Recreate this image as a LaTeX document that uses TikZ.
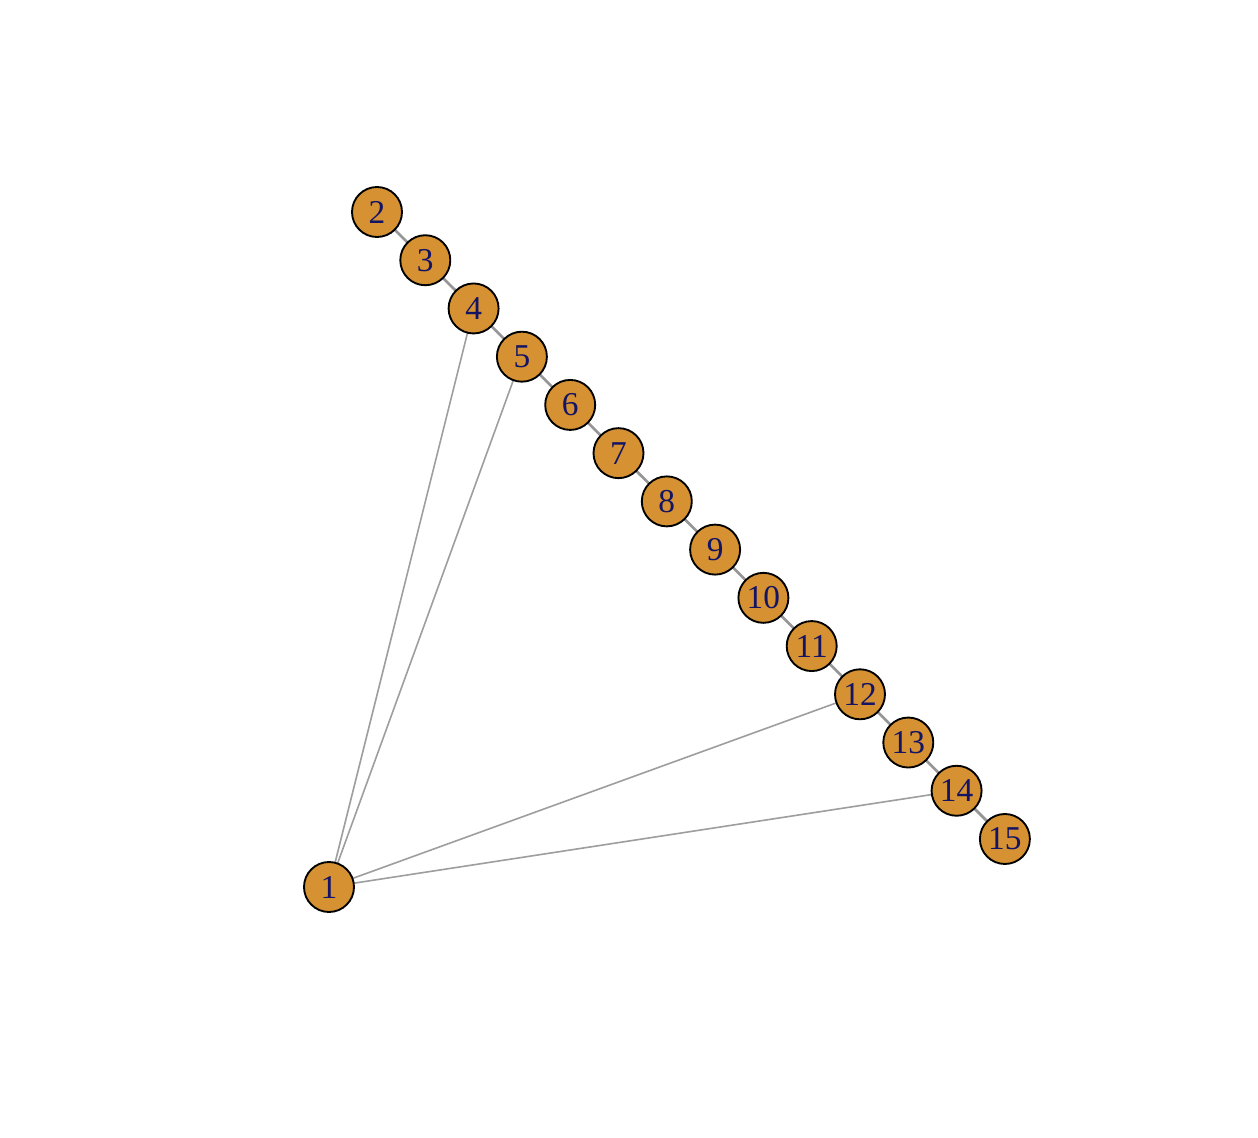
\documentclass[tikz,border=0pt]{standalone}
\usepackage{fontspec}
\setmainfont{Liberation Serif}
\definecolor{vfill}{RGB}{213,145,50}
\definecolor{vlabel}{RGB}{20,20,100}
\definecolor{egray}{RGB}{150,150,150}
\definecolor{sgray}{RGB}{158,158,158}
\begin{document}
\begin{tikzpicture}[x=0.75pt,y=-0.75pt,
  vtx/.style={circle,draw=black,line width=1.4pt,fill=vfill,minimum size=37.5pt,inner sep=0pt,
    text=vlabel,font=\fontsize{25}{25}\selectfont},
  chain/.style={draw=egray,line width=2pt},
  spoke/.style={draw=sgray,line width=1.2pt}]
\useasboundingbox (0,0) rectangle (1258,1138);
\fill[white] (0,0) rectangle (1258,1138);
\coordinate (c1) at (329,887);
\foreach \i [evaluate=\i as \xx using 377+48.3*(\i-2), evaluate=\i as \yy using 212+48.23*(\i-2)] in {2,...,15}{
  \coordinate (c\i) at (\xx,\yy);
}
\path[chain] (c2)--(c3) (c3)--(c4) (c4)--(c5) (c5)--(c6) (c6)--(c7) (c7)--(c8) (c8)--(c9) (c9)--(c10) (c10)--(c11) (c11)--(c12) (c12)--(c13) (c13)--(c14) (c14)--(c15);
\path[spoke] (c1)--(c4) (c1)--(c5) (c1)--(c12) (c1)--(c14);
\foreach \i in {1,...,15}{
  \node[vtx] (n\i) at (c\i) {\i};
}
\end{tikzpicture}
\end{document}
